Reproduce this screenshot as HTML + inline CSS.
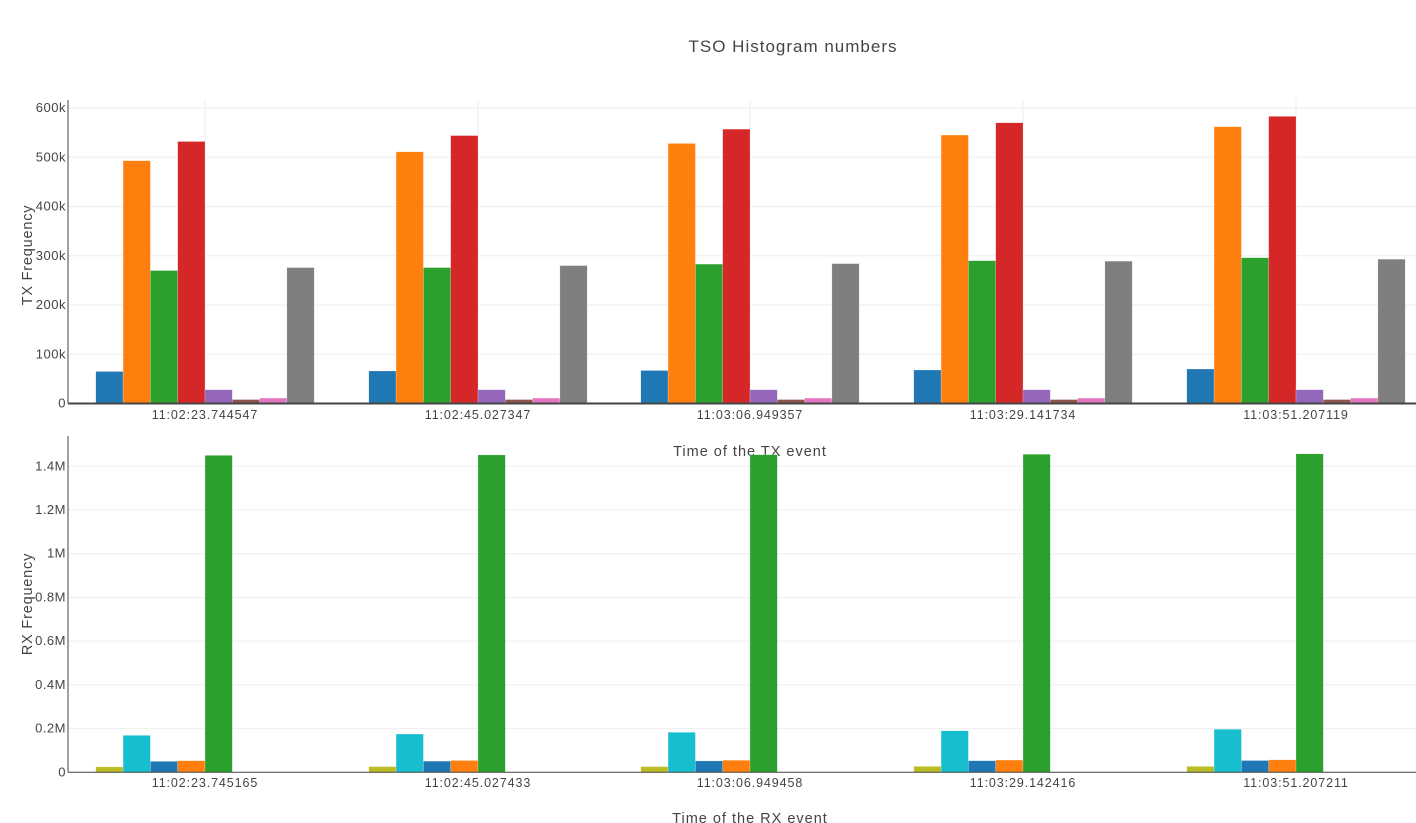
<!DOCTYPE html>
<html><head><meta charset="utf-8"><style>
html,body{margin:0;padding:0;background:#fff;}
svg{display:block;font-family:"Liberation Sans",Arial,sans-serif;}
</style></head><body>
<svg id="s" width="1416" height="823" xmlns="http://www.w3.org/2000/svg"></svg>
<script>
var s=document.getElementById('s'),h='';
h+='<text x="793" y="52" font-size="17" fill="#444" text-anchor="middle" letter-spacing="1">TSO Histogram numbers</text>';
var centers=[205,478,750,1023,1296],bw=27.3;
var tk='font-size="12.5" fill="#444" letter-spacing="0.9"';
var yk='font-size="13" fill="#444" letter-spacing="0.5"';
var y0=403.5,k=295.5/600;
for(var v=100;v<=600;v+=100){var y=y0-v*k;h+='<line x1="68" x2="1416" y1="'+y+'" y2="'+y+'" stroke="#eee"/>';h+='<text x="66" y="'+(y+4)+'" '+yk+' text-anchor="end">'+v+'k</text>';}
h+='<text x="66" y="'+(y0+4)+'" '+yk+' text-anchor="end">0</text>';
centers.forEach(function(c){h+='<line x1="'+c+'" x2="'+c+'" y1="100" y2="'+y0+'" stroke="#eee"/>';});
var cols=['#1f77b4','#ff7f0e','#2ca02c','#d62728','#9467bd','#8c564b','#e377c2','#7f7f7f'];
var tv=[[65,493,270,532,28,8,11,276],[66,511,276,544,28,8,11,280],[67,528,283,557,28,8,11,284],[68,545,290,570,28,8,11,289],[70,562,296,583,28,8,11,293]];
var tl=['11:02:23.744547','11:02:45.027347','11:03:06.949357','11:03:29.141734','11:03:51.207119'];
centers.forEach(function(c,i){var st=c-4*bw;tv[i].forEach(function(v,j){var hh=v*k;h+='<rect x="'+(st+j*bw)+'" y="'+(y0-hh)+'" width="'+bw+'" height="'+hh+'" fill="'+cols[j]+'" stroke="rgba(255,255,255,0.4)" stroke-width="0.5"/>';});
h+='<text x="'+c+'" y="419" '+tk+' text-anchor="middle">'+tl[i]+'</text>';});
h+='<line x1="68" x2="68" y1="100" y2="'+y0+'" stroke="#444"/>';
h+='<line x1="68" x2="1416" y1="'+y0+'" y2="'+y0+'" stroke="#444" stroke-width="2"/>';
h+='<text x="750" y="456" font-size="14.5" letter-spacing="1" fill="#444" text-anchor="middle">Time of the TX event</text>';
h+='<text transform="translate(32,255) rotate(-90)" font-size="14.5" letter-spacing="0.8" fill="#444" text-anchor="middle">TX Frequency</text>';
var b0=772.3,m=306/1.4;
[0.2,0.4,0.6,0.8,1,1.2,1.4].forEach(function(v){var y=b0-v*m;h+='<line x1="68" x2="1416" y1="'+y+'" y2="'+y+'" stroke="#eee"/>';h+='<text x="66" y="'+(y+4)+'" '+yk+' text-anchor="end">'+(v==1?'1':v.toFixed(1))+'M</text>';});
h+='<text x="66" y="'+(b0+4)+'" '+yk+' text-anchor="end">0</text>';
var bc=['#bcbd22','#17becf','#1f77b4','#ff7f0e','#2ca02c'];
var bv=[[25,169,50,53,1450],[26,175,51,54,1452],[26,183,52,55,1453],[27,190,53,56,1455],[27,197,54,57,1457]];
var bl=['11:02:23.745165','11:02:45.027433','11:03:06.949458','11:03:29.142416','11:03:51.207211'];
centers.forEach(function(c,i){var st=c-4*bw;bv[i].forEach(function(v,j){var hh=v/1000*m;h+='<rect x="'+(st+j*bw)+'" y="'+(b0-hh)+'" width="'+bw+'" height="'+hh+'" fill="'+bc[j]+'" stroke="rgba(255,255,255,0.4)" stroke-width="0.5"/>';});
h+='<text x="'+c+'" y="787" '+tk+' text-anchor="middle">'+bl[i]+'</text>';});
h+='<line x1="68" x2="68" y1="436" y2="'+b0+'" stroke="#444"/>';
h+='<line x1="68" x2="1416" y1="'+b0+'" y2="'+b0+'" stroke="#444"/>';
h+='<text x="750" y="823" font-size="14.5" letter-spacing="1" fill="#444" text-anchor="middle">Time of the RX event</text>';
h+='<text transform="translate(32,604) rotate(-90)" font-size="14.5" letter-spacing="0.8" fill="#444" text-anchor="middle">RX Frequency</text>';
s.innerHTML=h;
</script>
</body></html>
